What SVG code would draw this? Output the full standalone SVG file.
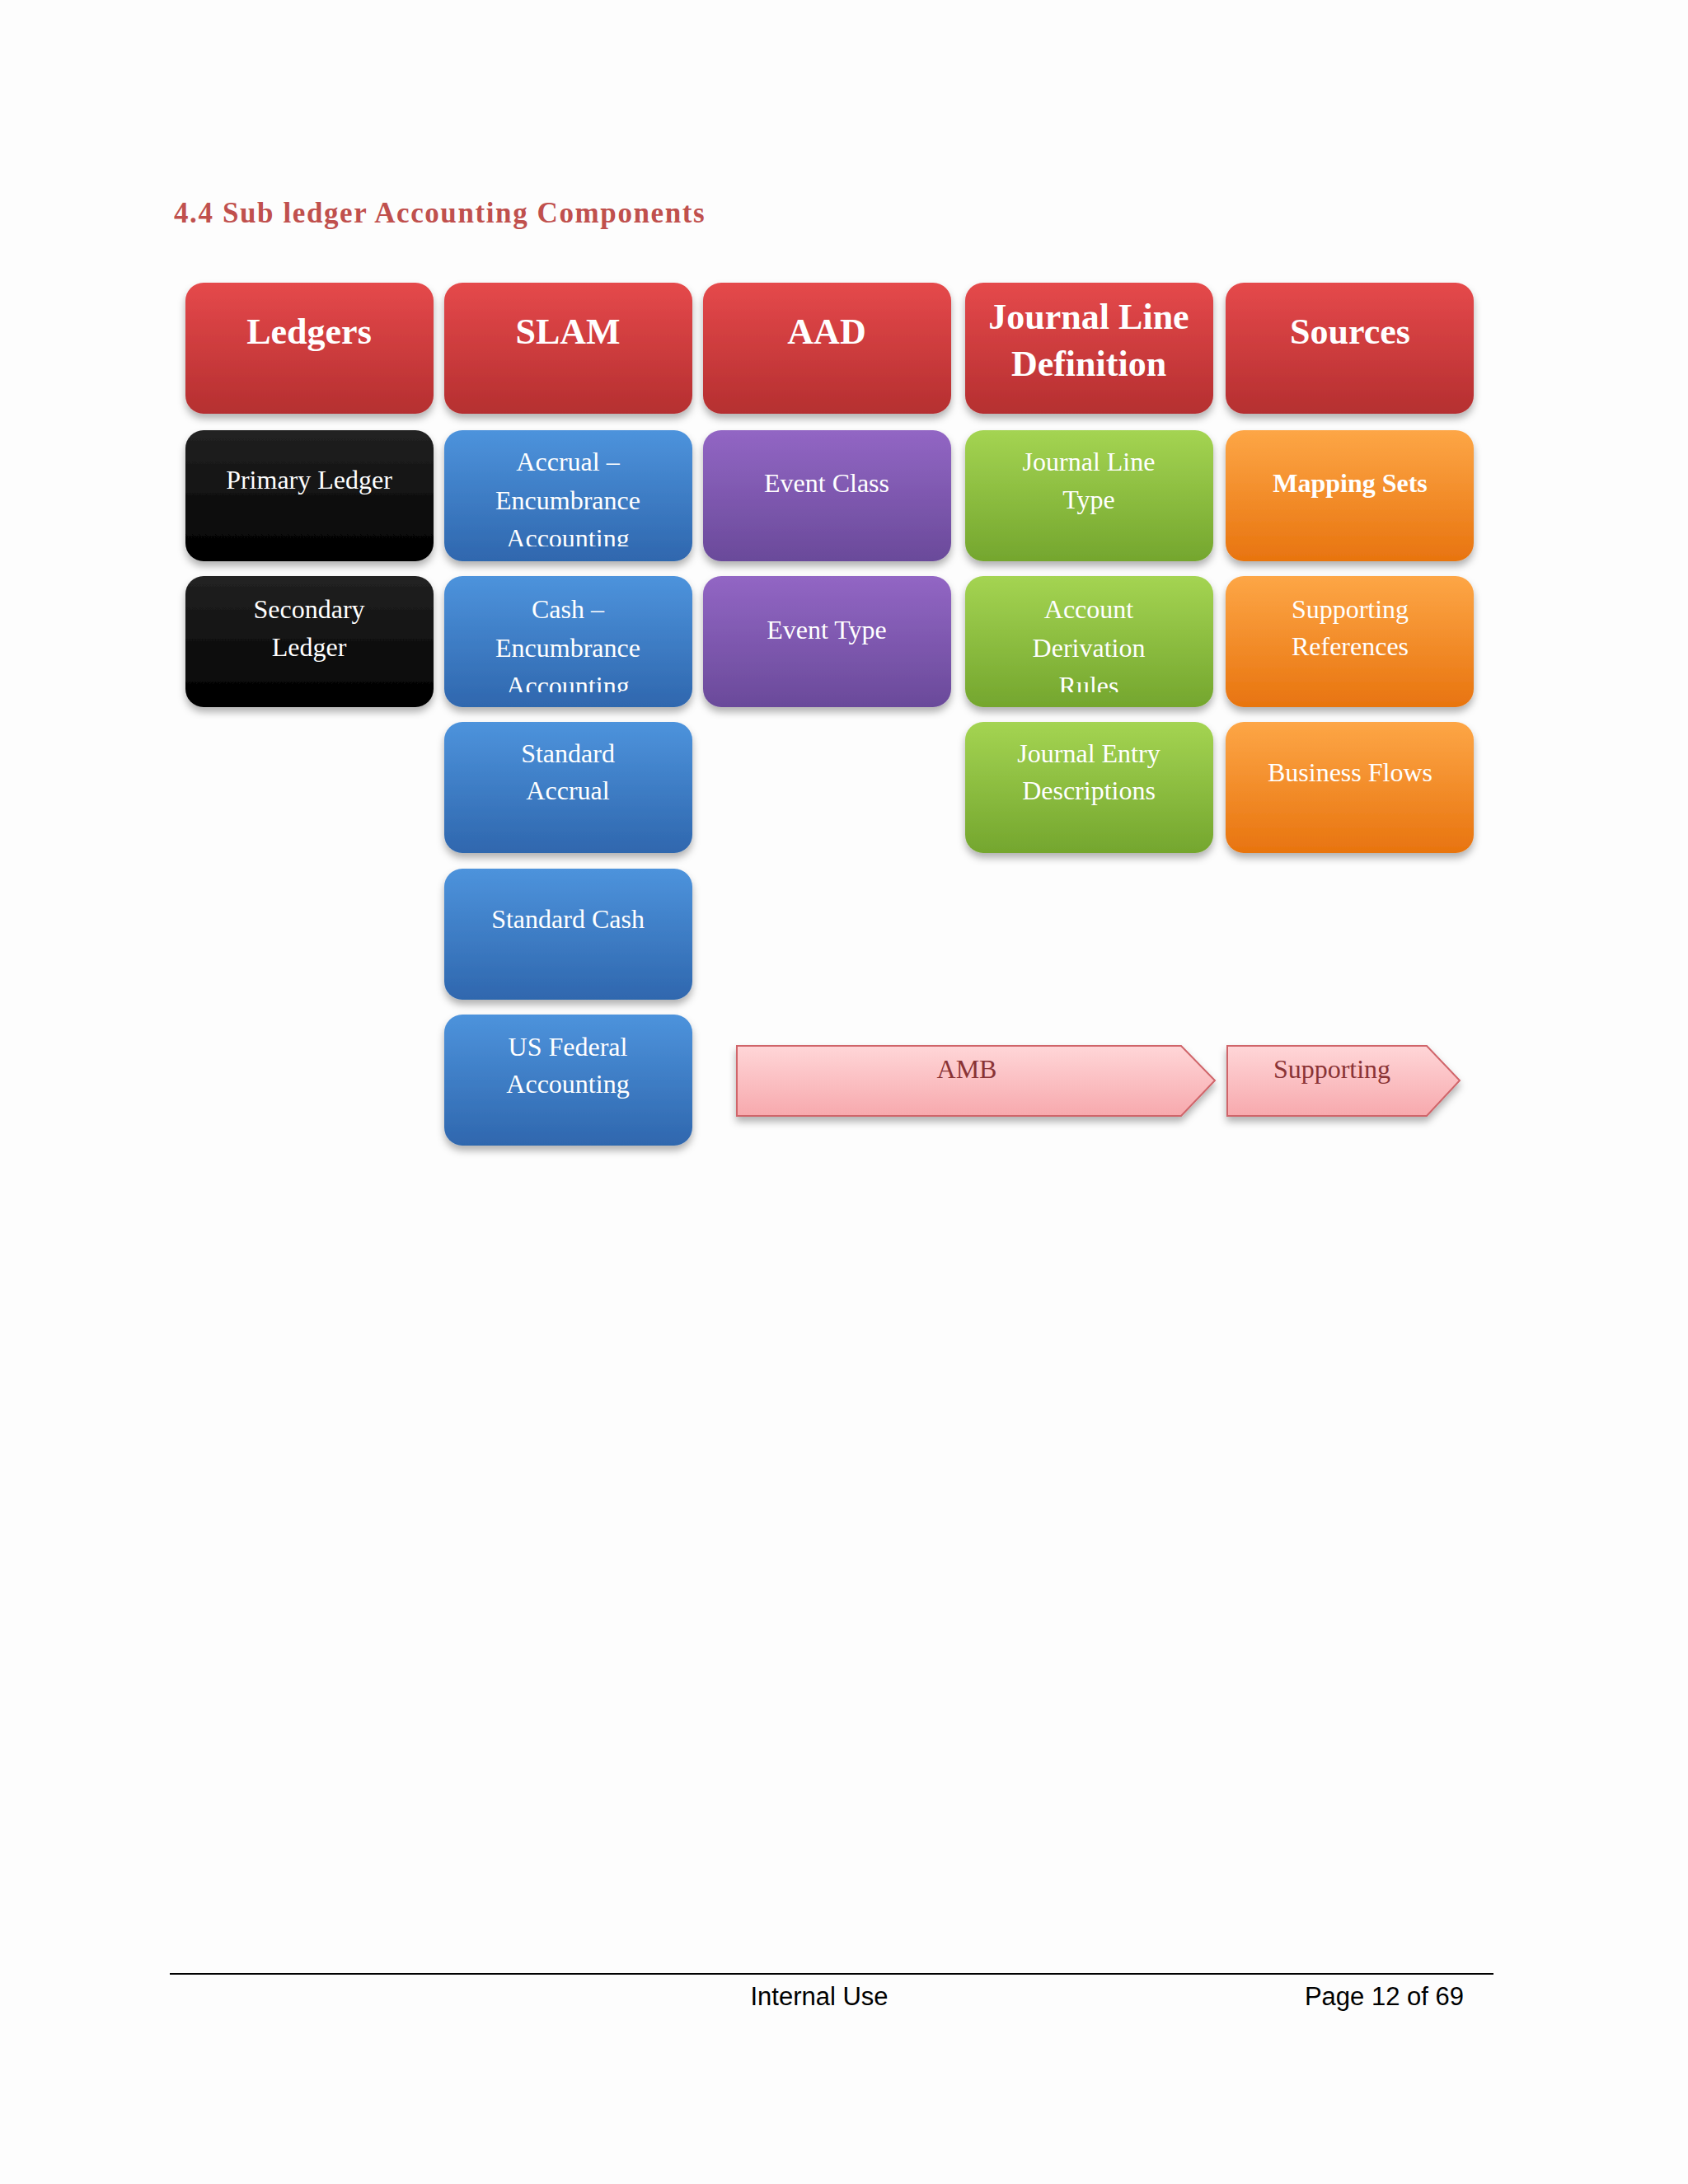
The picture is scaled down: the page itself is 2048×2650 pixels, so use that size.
<svg xmlns="http://www.w3.org/2000/svg" width="2048" height="2650" viewBox="0 0 2048 2650">
<defs>
<linearGradient id="gr" x1="0" y1="0" x2="0" y2="1"><stop offset="0" stop-color="#e5494b"/><stop offset="1" stop-color="#b52f30"/></linearGradient>
<linearGradient id="gk" x1="0" y1="0" x2="0" y2="1"><stop offset="0" stop-color="#222"/><stop offset="1" stop-color="#000"/></linearGradient>
<linearGradient id="gb" x1="0" y1="0" x2="0" y2="1"><stop offset="0" stop-color="#4d93dc"/><stop offset="1" stop-color="#2f67ae"/></linearGradient>
<linearGradient id="gp" x1="0" y1="0" x2="0" y2="1"><stop offset="0" stop-color="#9266c4"/><stop offset="1" stop-color="#6a4a9a"/></linearGradient>
<linearGradient id="gg" x1="0" y1="0" x2="0" y2="1"><stop offset="0" stop-color="#a4d452"/><stop offset="1" stop-color="#74a62e"/></linearGradient>
<linearGradient id="go" x1="0" y1="0" x2="0" y2="1"><stop offset="0" stop-color="#fda646"/><stop offset="1" stop-color="#e8740f"/></linearGradient>
<linearGradient id="gpk" x1="0" y1="0" x2="0" y2="1"><stop offset="0" stop-color="#ffd6d8"/><stop offset="1" stop-color="#f7a9ad"/></linearGradient>
<filter id="sh" x="-10%" y="-10%" width="120%" height="130%"><feDropShadow dx="0" dy="6" stdDeviation="5" flood-color="#000" flood-opacity="0.3"/></filter>
<clipPath id="c1"><rect x="539" y="522" width="301" height="141"/></clipPath>
<clipPath id="c2"><rect x="539" y="699" width="301" height="141"/></clipPath>
<clipPath id="c3"><rect x="1171" y="699" width="301" height="141"/></clipPath>
</defs>
<style>
.b{filter:url(#sh)}
.h{font-family:"Liberation Serif",serif;font-weight:bold;font-size:44px;fill:#fff;text-anchor:middle}
.t{font-family:"Liberation Serif",serif;font-size:32px;fill:#fff;text-anchor:middle}
.a{font-family:"Liberation Serif",serif;font-size:32px;fill:#8a3335;text-anchor:middle}
.f{font-family:"Liberation Sans",Arial,sans-serif;font-size:31px;fill:#000}
</style>
<rect width="2048" height="2650" fill="#fdfdfd"/>
<text x="211" y="270" font-family="Liberation Serif,serif" font-weight="bold" font-size="35" letter-spacing="1.6" fill="#c0504d">4.4 Sub ledger Accounting Components</text>

<g id="h-ledgers"><rect class="b" x="225" y="343" width="301" height="159" rx="22" fill="url(#gr)"/><text class="h" x="375" y="417">Ledgers</text></g>
<g id="h-slam"><rect class="b" x="539" y="343" width="301" height="159" rx="22" fill="url(#gr)"/><text class="h" x="689" y="417">SLAM</text></g>
<g id="h-aad"><rect class="b" x="853" y="343" width="301" height="159" rx="22" fill="url(#gr)"/><text class="h" x="1003" y="417">AAD</text></g>
<g id="h-jld"><rect class="b" x="1171" y="343" width="301" height="159" rx="22" fill="url(#gr)"/><text class="h" x="1321" y="399">Journal Line</text><text class="h" x="1321" y="456">Definition</text></g>
<g id="h-sources"><rect class="b" x="1487" y="343" width="301" height="159" rx="22" fill="url(#gr)"/><text class="h" x="1638" y="417">Sources</text></g>

<g id="primary"><rect class="b" x="225" y="522" width="301" height="159" rx="22" fill="url(#gk)"/><text class="t" x="375" y="593">Primary Ledger</text></g>
<g id="secondary"><rect class="b" x="225" y="699" width="301" height="159" rx="22" fill="url(#gk)"/><text class="t" x="375" y="750">Secondary</text><text class="t" x="375" y="796">Ledger</text></g>

<g id="accrual-enc"><rect class="b" x="539" y="522" width="301" height="159" rx="22" fill="url(#gb)"/><g clip-path="url(#c1)"><text class="t" x="689" y="571">Accrual –</text><text class="t" x="689" y="618">Encumbrance</text><text class="t" x="689" y="664">Accounting</text></g></g>
<g id="cash-enc"><rect class="b" x="539" y="699" width="301" height="159" rx="22" fill="url(#gb)"/><g clip-path="url(#c2)"><text class="t" x="689" y="750">Cash –</text><text class="t" x="689" y="797">Encumbrance</text><text class="t" x="689" y="843">Accounting</text></g></g>
<g id="std-accrual"><rect class="b" x="539" y="876" width="301" height="159" rx="22" fill="url(#gb)"/><text class="t" x="689" y="925">Standard</text><text class="t" x="689" y="970">Accrual</text></g>
<g id="std-cash"><rect class="b" x="539" y="1054" width="301" height="159" rx="22" fill="url(#gb)"/><text class="t" x="689" y="1126">Standard Cash</text></g>
<g id="usfed"><rect class="b" x="539" y="1231" width="301" height="159" rx="22" fill="url(#gb)"/><text class="t" x="689" y="1281">US Federal</text><text class="t" x="689" y="1326">Accounting</text></g>

<g id="event-class"><rect class="b" x="853" y="522" width="301" height="159" rx="22" fill="url(#gp)"/><text class="t" x="1003" y="597">Event Class</text></g>
<g id="event-type"><rect class="b" x="853" y="699" width="301" height="159" rx="22" fill="url(#gp)"/><text class="t" x="1003" y="775">Event Type</text></g>

<g id="jlt"><rect class="b" x="1171" y="522" width="301" height="159" rx="22" fill="url(#gg)"/><text class="t" x="1321" y="571">Journal Line</text><text class="t" x="1321" y="617">Type</text></g>
<g id="adr"><rect class="b" x="1171" y="699" width="301" height="159" rx="22" fill="url(#gg)"/><g clip-path="url(#c3)"><text class="t" x="1321" y="750">Account</text><text class="t" x="1321" y="797">Derivation</text><text class="t" x="1321" y="843">Rules</text></g></g>
<g id="jed"><rect class="b" x="1171" y="876" width="301" height="159" rx="22" fill="url(#gg)"/><text class="t" x="1321" y="925">Journal Entry</text><text class="t" x="1321" y="970">Descriptions</text></g>

<g id="mapping"><rect class="b" x="1487" y="522" width="301" height="159" rx="22" fill="url(#go)"/><text class="t" x="1638" y="597" font-weight="bold">Mapping Sets</text></g>
<g id="suprefs"><rect class="b" x="1487" y="699" width="301" height="159" rx="22" fill="url(#go)"/><text class="t" x="1638" y="750">Supporting</text><text class="t" x="1638" y="795">References</text></g>
<g id="bflows"><rect class="b" x="1487" y="876" width="301" height="159" rx="22" fill="url(#go)"/><text class="t" x="1638" y="948">Business Flows</text></g>

<g id="amb"><path class="b" d="M894 1269 H1433 L1474 1311 L1433 1354 H894 Z" fill="url(#gpk)" stroke="#d0656a" stroke-width="2"/><text class="a" x="1173" y="1308">AMB</text></g>
<g id="supporting"><path class="b" d="M1489 1269 H1731 L1771 1311 L1731 1354 H1489 Z" fill="url(#gpk)" stroke="#d0656a" stroke-width="2"/><text class="a" x="1616" y="1308">Supporting</text></g>

<g id="connectors"></g>
<line x1="206" y1="2395" x2="1812" y2="2395" stroke="#000" stroke-width="2"/>
<text class="f" x="994" y="2433" text-anchor="middle">Internal Use</text>
<text class="f" x="1776" y="2433" text-anchor="end">Page 12 of 69</text>
</svg>
